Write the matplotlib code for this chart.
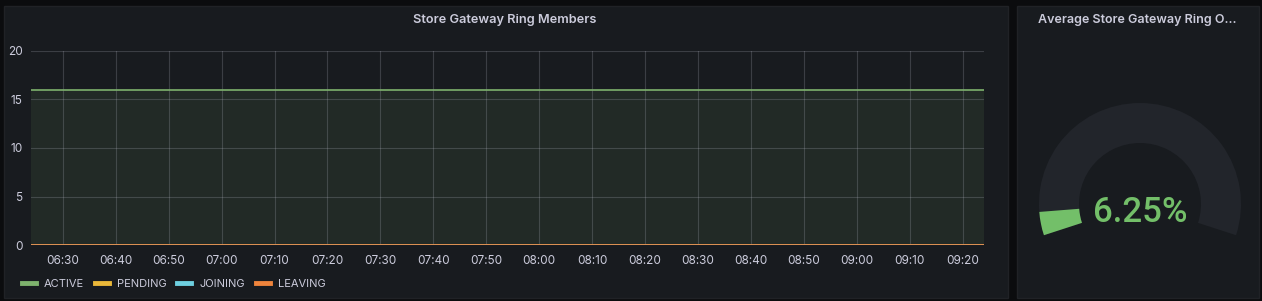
import numpy as np
import pandas as pd
import matplotlib.pyplot as plt
from matplotlib.patches import Rectangle, Wedge
import matplotlib.dates as mdates

plt.rcParams['font.family'] = ['Inter', 'DejaVu Sans']

# data
times = pd.date_range('2024-01-01 06:24', '2024-01-01 09:24', freq='1min')
n = len(times)
series_names = ['ACTIVE', 'PENDING', 'JOINING', 'LEAVING']
series_colors = ['#7eb26d', '#eab839', '#6ed0e0', '#ef843c']
active = np.full(n, 16.0)
pending = np.zeros(n)
joining = np.zeros(n)
leaving = np.zeros(n)
y_ticks = [0, 5, 10, 15, 20]
gauge_value = 6.25
gauge_min, gauge_max = 0, 100

W, H = 1262, 301
fig = plt.figure(figsize=(W / 100, H / 100), dpi=100)
fig.patch.set_facecolor('#0b0c0e')

bg = fig.add_axes([0, 0, 1, 1])
bg.set_xlim(0, W)
bg.set_ylim(0, H)
bg.axis('off')
panel = '#181b1f'
bg.add_patch(Rectangle((4, H - 298), 1004, 292, facecolor=panel, edgecolor='#202226', lw=1))
bg.add_patch(Rectangle((1017, H - 298), 242, 292, facecolor=panel, edgecolor='#202226', lw=1))

txt = '#ccccdc'
bg.text(505, H - 20, 'Store Gateway Ring Members', color=txt, fontsize=9.2,
        fontweight='semibold', ha='center', va='center')
bg.text(1137, H - 20, 'Average Store Gateway Ring O...', color=txt, fontsize=9,
        fontweight='semibold', ha='center', va='center')

# gauge
cx, cy = 1140, H - 204
r_out, width = 101, 40
a0, a1 = -18, 198
bg.add_patch(Wedge((cx, cy), r_out, a0, a1, width=width, facecolor='#22252b', edgecolor='none'))
frac = (gauge_value - gauge_min) / (gauge_max - gauge_min)
bg.add_patch(Wedge((cx, cy), r_out, a1 - frac * (a1 - a0), a1, width=width,
                   facecolor='#73bf69', edgecolor='none'))
bg.text(cx, H - 212, f'{gauge_value:.2f}%', color='#73bf69', fontsize=25,
        family=['Roboto', 'DejaVu Sans'], fontweight='medium',
        ha='center', va='center')

# time series
ax = fig.add_axes([31 / W, (H - 245) / H, (984 - 31) / W, (245 - 51) / H])
ax.set_facecolor(panel)
for s in ax.spines.values():
    s.set_visible(False)
vals = [active, pending, joining, leaving]
ax.fill_between(times, 0, active, color=series_colors[0], alpha=0.1, lw=0)
for name, v, c in zip(series_names, vals, series_colors):
    ax.plot(times, v, color=c, lw=1.2, label=name)
ax.set_xlim(times[0], times[-1])
ax.set_ylim(0, 20)
ax.set_yticks(y_ticks)
ax.xaxis.set_major_locator(mdates.MinuteLocator(byminute=range(0, 60, 10)))
ax.xaxis.set_major_formatter(mdates.DateFormatter('%H:%M'))
ax.grid(True, color='#ccccdc', alpha=0.2, lw=0.8)
ax.tick_params(colors=txt, labelsize=8.5, length=0, pad=7)
ax.tick_params(axis='y', pad=6)

leg = ax.legend(loc='upper left', bbox_to_anchor=(-0.0094, -0.177), ncol=4, frameon=False,
                fontsize=8, handlelength=1.25, handletextpad=0.7, columnspacing=1.0,
                borderpad=0, borderaxespad=0)
for t in leg.get_texts():
    t.set_color(txt)
for l in leg.get_lines():
    l.set_linewidth(3.5)

fig.savefig('out.png', dpi=100, facecolor=fig.get_facecolor())
